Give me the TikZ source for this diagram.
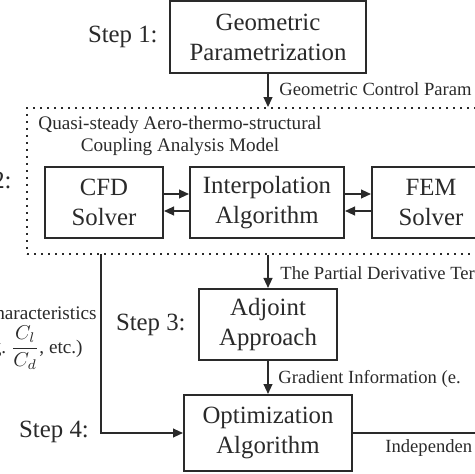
\documentclass[tikz,border=0pt]{standalone}
\usepackage{fontspec}
\setmainfont{Liberation Serif}
\usetikzlibrary{arrows.meta,positioning}
\definecolor{ink}{HTML}{2A2A2A}
\tikzset{
  proc_box/.style={draw=ink,line width=1pt,fill=white,inner sep=0pt,align=center,
    font=\fontsize{12.4}{15}\selectfont,text=ink},
  step_lbl/.style={inner sep=0pt,font=\fontsize{12.4}{15}\selectfont,text=ink},
  note_lbl/.style={inner sep=0pt,anchor=west,font=\fontsize{9.3}{11}\selectfont,text=ink},
  dot_frame/.style={draw=ink,line width=0.9pt,dash pattern=on 0.9pt off 2.6pt,inner sep=0pt},
  arr/.style={-{Triangle[length=5pt,width=4.4pt]},draw=ink,line width=0.8pt},
}
\begin{document}
\begin{tikzpicture}[x=0.5pt,y=-0.5pt]
  \useasboundingbox (0,0) rectangle (474,474);
  % step 1
  \node[proc_box,minimum width=98pt,minimum height=36pt] (geo) at (268,37) {Geometric\\Parametrization};
  \node[step_lbl,left=5.5pt of geo] (s1) {Step 1:};

  % step 2: coupled model
  \node[dot_frame,minimum width=231.5pt,minimum height=73pt] (model) at (258.5,181) {};
  \node[note_lbl,anchor=center,align=center,font=\fontsize{9.6}{11}\selectfont] (title) at (180,136) {Quasi-steady Aero-thermo-structural\\Coupling Analysis Model};
  \node[step_lbl,anchor=east] (s2) at (12,180) {2:};
  \node[proc_box,minimum width=59pt,minimum height=35.5pt] (cfd) at (104,202.5) {CFD\\Solver};
  \node[proc_box,minimum width=77pt,minimum height=35.5pt] (interp) at (267,202.5) {Interpolation\\Algorithm};
  \node[proc_box,minimum width=59pt,minimum height=35.5pt] (fem) at (431,202.5) {FEM\\Solver};

  % step 3 and 4
  \node[proc_box,minimum width=69pt,minimum height=35.5pt] (adj) at (268,324.5) {Adjoint\\Approach};
  \node[step_lbl,left=6pt of adj] (s3) {Step 3:};
  \node[proc_box,minimum width=84pt,minimum height=38pt] (opt) at (268,433) {Optimization\\Algorithm};
  \node[step_lbl] (s4) at (54,432) {Step 4:};

  % labels
  \node[note_lbl] (gcp) at (279,89) {Geometric Control Param};
  \node[note_lbl] (pdt) at (280,273) {The Partial Derivative Term};
  \node[note_lbl] (grad) at (278,379) {Gradient Information (e.};
  \node[note_lbl] (indep) at (385,448) {Independen};
  \node[note_lbl,anchor=east,font=\fontsize{9.6}{11}\selectfont] (aero1) at (97,313) {haracteristics};
  \node[note_lbl,anchor=east,font=\fontsize{9.6}{11}\selectfont] (aero2) at (83,348) {g.\ $\displaystyle\frac{C_l}{C_d}$, etc.)};

  \coordinate (split) at (101,254);
  \coordinate (exit) at (480,433);

  % connectors
  \draw[arr] (geo) -- (geo.south |- model.north);
  \draw[arr] ([yshift=4.25pt]cfd.east) -- ([yshift=4.25pt]interp.west);
  \draw[arr] ([yshift=-4.25pt]interp.west) -- ([yshift=-4.25pt]cfd.east);
  \draw[arr] ([yshift=4.25pt]interp.east) -- ([yshift=4.25pt]fem.west);
  \draw[arr] ([yshift=-4.25pt]fem.west) -- ([yshift=-4.25pt]interp.east);
  \draw[arr] (model.south -| adj) -- (adj);
  \draw[arr] (adj) -- (opt);
  \draw[arr] (split) |- (opt);
  \draw[draw=ink,line width=0.8pt] (opt) -- (exit);
\end{tikzpicture}
\end{document}
